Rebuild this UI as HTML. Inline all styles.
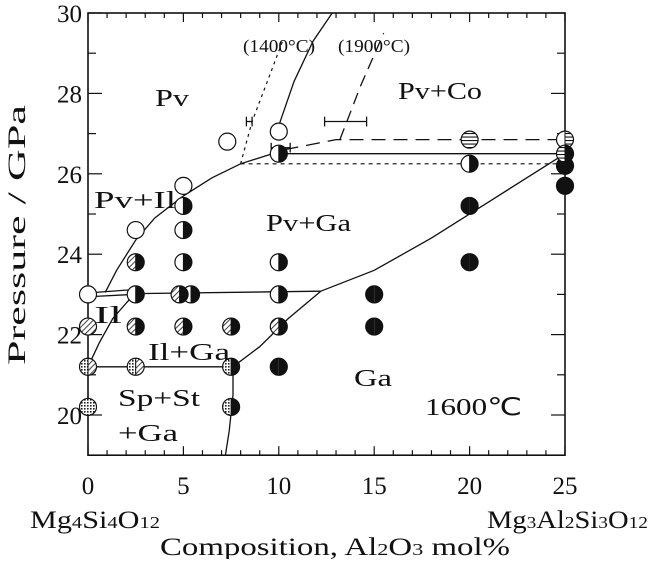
<!DOCTYPE html>
<html><head><meta charset="utf-8"><style>
html,body{margin:0;padding:0;background:#fff;}
svg text{font-family:"Liberation Serif",serif;fill:#111;}
</style></head><body>
<svg id="chart" width="650" height="559" viewBox="0 0 650 559" xmlns="http://www.w3.org/2000/svg">
<defs>
<pattern id="hatch" patternUnits="userSpaceOnUse" width="4" height="4" patternTransform="rotate(45)"><rect width="4" height="4" fill="#fff"/><line x1="0" y1="0" x2="0" y2="4" stroke="#111" stroke-width="1.6"/></pattern>
<pattern id="stipple" patternUnits="userSpaceOnUse" width="3" height="3"><rect width="3" height="3" fill="#fff"/><rect width="1.6" height="1.6" fill="#222"/></pattern>
<pattern id="hstripe" patternUnits="userSpaceOnUse" width="4" height="3.5"><rect width="4" height="3.5" fill="#fff"/><line x1="0" y1="0.5" x2="4" y2="0.5" stroke="#111" stroke-width="1.2"/></pattern>
</defs>
<g id="axes"></g>
<g id="lines"></g>
<g id="marks"></g>
<g id="labels" font-size="24">
<text x="155" y="106" textLength="34" lengthAdjust="spacingAndGlyphs">Pv</text>
<text x="398" y="99" textLength="84" lengthAdjust="spacingAndGlyphs">Pv+Co</text>
<text x="94" y="208" textLength="82" lengthAdjust="spacingAndGlyphs">Pv+Il</text>
<text x="266" y="231" textLength="85" lengthAdjust="spacingAndGlyphs">Pv+Ga</text>
<text x="94" y="323" textLength="28" lengthAdjust="spacingAndGlyphs">Il</text>
<text x="148" y="360" textLength="82" lengthAdjust="spacingAndGlyphs">Il+Ga</text>
<text x="354" y="386" textLength="38" lengthAdjust="spacingAndGlyphs">Ga</text>
<text x="118" y="406" textLength="82" lengthAdjust="spacingAndGlyphs">Sp+St</text>
<text x="118" y="441" textLength="60" lengthAdjust="spacingAndGlyphs">+Ga</text>
<text x="425" y="415" textLength="97" lengthAdjust="spacingAndGlyphs">1600℃</text>
<text x="243" y="52" font-size="18" textLength="72" lengthAdjust="spacingAndGlyphs">(1400°C)</text>
<text x="338" y="52" font-size="18" textLength="72" lengthAdjust="spacingAndGlyphs">(1900°C)</text>
<text x="30" y="528" font-size="25" textLength="130" lengthAdjust="spacingAndGlyphs">Mg<tspan font-size="17">4</tspan>Si<tspan font-size="17">4</tspan>O<tspan font-size="17">12</tspan></text>
<text x="487" y="528" font-size="25" textLength="161" lengthAdjust="spacingAndGlyphs">Mg<tspan font-size="17">3</tspan>Al<tspan font-size="17">2</tspan>Si<tspan font-size="17">3</tspan>O<tspan font-size="17">12</tspan></text>
<text x="160" y="555" font-size="25" textLength="350" lengthAdjust="spacingAndGlyphs">Composition, Al<tspan font-size="17">2</tspan>O<tspan font-size="17">3</tspan> mol%</text>
<text transform="translate(25,235) rotate(-90)" text-anchor="middle" font-size="25" textLength="260" lengthAdjust="spacingAndGlyphs">Pressure / GPa</text>
</g>
</svg>
<script>
const xTicks=[0,5,10,15,20,25];
const yTicks=[20,22,24,26,28,30];
// marker data: composition, pressure, type
const openPts=[[0,23],[2.5,24.6],[5,25.7],[7.3,26.8],[10,27.05]];
const halfPts=[[2.5,23],[5,25.2],[5,24.6],[5,23.8],[5.4,23],[10,23.8],[10,23],[10,26.5],[20,26.25]];
const hatchBlackPts=[[2.5,23.8],[4.8,23],[2.5,22.2],[5,22.2],[7.5,22.2],[10,22.2]];
const blackPts=[[10,21.2],[15,23],[15,22.2],[20,25.2],[20,23.8],[25,26.2],[25,25.7]];
const hatchPts=[[0,22.2]];
const stipplePts=[[0,20.2]];
const stippleHatchPts=[[0,21.2],[2.5,21.2]];
const stippleBlackPts=[[7.5,21.2],[7.5,20.2]];
const stripePts=[[20,26.85]];
const openStripePts=[[25,26.85]];
const stripeBlackPts=[[25,26.5]];
const X=c=>88+c*19.08, Y=p=>13+(30-p)*40.2;
const NS="http://www.w3.org/2000/svg";
function mk(tag,attrs,parent){const e=document.createElementNS(NS,tag);for(const k in attrs)e.setAttribute(k,attrs[k]);parent.appendChild(e);return e;}
const ax=document.getElementById('axes');
const frame=mk('rect',{x:X(0),y:Y(30),width:X(25)-X(0),height:Y(19)-Y(30),fill:'none',stroke:'#111','stroke-width':1.6},ax);


for(let c=0;c<=25;c++){const L=c%5===0?9:5;
 mk('line',{x1:X(c),x2:X(c),y1:Y(19),y2:Y(19)-L,stroke:'#111','stroke-width':1.2},ax);
 mk('line',{x1:X(c),x2:X(c),y1:Y(30),y2:Y(30)+L,stroke:'#111','stroke-width':1.2},ax);}
for(let p=19;p<=30;p++){const L=p%2===0?14:8;
 mk('line',{x1:X(0),x2:X(0)+L,y1:Y(p),y2:Y(p),stroke:'#111','stroke-width':1.2},ax);
 mk('line',{x1:X(25),x2:X(25)-L,y1:Y(p),y2:Y(p),stroke:'#111','stroke-width':1.2},ax);}
xTicks.forEach(v=>{const t=mk('text',{x:X(v),y:494,'text-anchor':'middle','font-size':25},ax);t.textContent=v;
 
 });
yTicks.forEach(v=>{const t=mk('text',{x:X(0)-6,y:Y(v)+9,'text-anchor':'end','font-size':25},ax);t.textContent=v;
 
 });
const ln=document.getElementById('lines');
function path(pts,dash,name,w){const d='M'+pts.map(q=>X(q[0]).toFixed(1)+','+Y(q[1]).toFixed(1)).join(' L');
 const e=mk('path',{d:d,fill:'none',stroke:'#111','stroke-width':w||1.3},ln);if(dash)e.setAttribute('stroke-dasharray',dash);
 
 }
path([[0.9,23.05],[1.5,23.6],[2.5,24.35],[3.5,24.9],[5,25.45],[6.5,25.9],[8,26.25],[10,26.55]],null,'pv-boundary');
path([[0,21.2],[0.6,21.8],[1.3,22.4],[2.4,23.0]],null,'il-boundary');
path([[0.4,23.05],[2.4,23.12]],null,'il-wedge-top');
path([[0.4,22.95],[2.4,23.0]],null,'il-wedge-bottom');
path([[2.5,23.02],[12.2,23.08]],null,'line-23gpa');
path([[12.2,23.08],[15,23.6],[18,24.4],[21,25.3],[23,25.9],[25,26.5]],null,'ga-boundary');
path([[0,21.2],[7.5,21.2]],null,'line-21gpa');
path([[7.6,21.2],[9,21.7],[10.5,22.4],[12.2,23.08]],null,'il-ga-boundary');
path([[7.6,21.2],[7.6,20.5],[7.4,19.6],[7.2,19]],null,'sp-ga-boundary');
path([[10,26.5],[25,26.5]],null,'line-26-5');
path([[8,26.25],[25,26.25]],'4,4','dotted-1400-horizontal',1.1);
path([[10.3,26.6],[13,26.85],[25,26.85]],'14,8','dashed-1900-horizontal');
path([[13.2,26.85],[14.3,28.2],[15.5,29.5]],'12,7','dashed-1900-boundary');
path([[10,27.2],[10.8,28.3],[11.8,29.3],[12.8,30]],null,'solid-1600-boundary');
path([[8,26.25],[8.6,27.3],[9.4,28.3],[10.2,29.3]],'3,4','dotted-1400-boundary',1.2);
function ebar(c1,c2,p,name){path([[c1,p],[c2,p]],null,name);path([[c1,p-0.12],[c1,p+0.12]],null,name);path([[c2,p-0.12],[c2,p+0.12]],null,name);}
ebar(12.4,14.6,27.3,'error-bar-1900');ebar(9.6,10.6,26.65,'error-bar-1600');ebar(8.3,8.6,27.3,'error-bar-1400');
const mg=document.getElementById('marks');const R=8.5;
function marker(c,p,left,right,name){const x=X(c),y=Y(p);const g=mk('g',{},mg);
 
 
 mk('path',{d:`M${x},${y-R} A${R},${R} 0 0 0 ${x},${y+R} Z`,fill:left},g);
 mk('path',{d:`M${x},${y-R} A${R},${R} 0 0 1 ${x},${y+R} Z`,fill:right},g);
 mk('circle',{cx:x,cy:y,r:R,fill:'none',stroke:'#111','stroke-width':1.2},g);
 if(left!==right) mk('line',{x1:x,x2:x,y1:y-R,y2:y+R,stroke:'#111','stroke-width':1},g);}
openPts.forEach(q=>marker(q[0],q[1],'#fff','#fff','open-point'));
halfPts.forEach(q=>marker(q[0],q[1],'#fff','#111','half-filled-point'));
hatchBlackPts.forEach(q=>marker(q[0],q[1],'url(#hatch)','#111','hatched-filled-point'));
blackPts.forEach(q=>marker(q[0],q[1],'#111','#111','filled-point'));
hatchPts.forEach(q=>marker(q[0],q[1],'url(#hatch)','url(#hatch)','hatched-point'));
stipplePts.forEach(q=>marker(q[0],q[1],'url(#stipple)','url(#stipple)','stippled-point'));
stippleHatchPts.forEach(q=>marker(q[0],q[1],'url(#stipple)','url(#hatch)','stippled-hatched-point'));
stippleBlackPts.forEach(q=>marker(q[0],q[1],'url(#stipple)','#111','stippled-filled-point'));
stripePts.forEach(q=>marker(q[0],q[1],'url(#hstripe)','url(#hstripe)','striped-point'));
openStripePts.forEach(q=>marker(q[0],q[1],'#fff','url(#hstripe)','open-striped-point'));
stripeBlackPts.forEach(q=>marker(q[0],q[1],'url(#hstripe)','#111','striped-filled-point'));
</script>
</body></html>
